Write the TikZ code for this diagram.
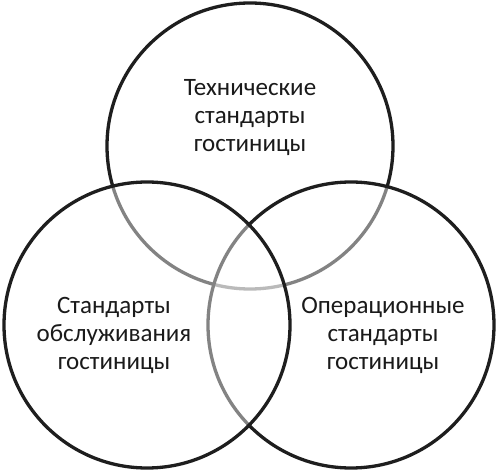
\documentclass[tikz,border=0pt]{standalone}
\usepackage{fontspec}
\setmainfont{Carlito}
\definecolor{ink}{HTML}{1E1E1E}
\definecolor{txt}{HTML}{1A1A1A}
\begin{document}
\begin{tikzpicture}[x=1pt,y=-1pt,
  ring/.style={circle, draw=ink, line width=3.3pt, fill=white, fill opacity=0.45, draw opacity=1, minimum size=286pt, inner sep=0pt},
  label/.style={align=center, text=txt, font=\fontsize{25}{28}\selectfont, inner sep=0pt}]
\useasboundingbox[fill=white] (0,0) rectangle (499,473);
\node[ring] (ctop) at (250,146) {};
\node[ring] (cright) at (351,325) {};
\node[ring] (cleft) at (147,325) {};
\node[label] (ttop) at (250,118) {Технические\\стандарты\\гостиницы};
\node[label] (tleft) at (114,335) {Стандарты\\обслуживания\\гостиницы};
\node[label] (tright) at (383,335) {Операционные\\стандарты\\гостиницы};
\end{tikzpicture}
\end{document}
